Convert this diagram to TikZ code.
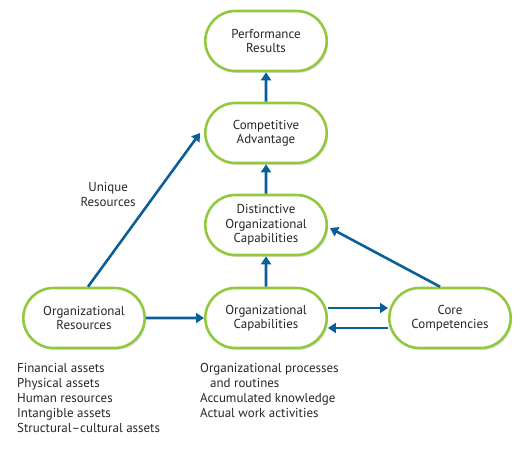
\documentclass[tikz,border=0pt]{standalone}
\usepackage{fontspec}
\setmainfont{PT Sans}
\usetikzlibrary{shapes.misc, arrows.meta, shadows, positioning, calc}

\definecolor{pillgreen}{RGB}{146,200,62}
\definecolor{arrowblue}{RGB}{10,96,150}

\tikzset{
  pill/.style={rounded rectangle, draw=pillgreen, line width=2.6pt, fill=white,
    minimum width=128bp, minimum height=60bp, align=center, font=\fontsize{13}{14.5}\selectfont,
    text=black!85, drop shadow={shadow xshift=1.5pt, shadow yshift=-2pt, opacity=0.25, fill=black!50}},
  flow/.style={draw=arrowblue, line width=2.6pt, -{Triangle[length=8bp, width=10bp]}},
  lst/.style={align=left, anchor=north west, inner sep=0pt, font=\fontsize{13}{15}\selectfont, text=black!85}
}

\begin{document}
\begin{tikzpicture}[x=1bp, y=-1bp]
\useasboundingbox (0,0) rectangle (526,457);

\node (perf) at (266, 41) [pill] {Performance\\Results};
\node (comp) at (266, 133) [pill] {Competitive\\Advantage};
\node (dist) at (266, 225) [pill] {Distinctive\\Organizational\\Capabilities};
\node (res) at (84, 318) [pill] {Organizational\\Resources};
\node (cap) at (266, 318) [pill] {Organizational\\Capabilities};
\node (core) at (450, 318) [pill] {Core\\Competencies};

\draw [flow] (comp) -- (perf);
\draw [flow] (dist) -- (comp);
\draw [flow] (cap) -- (dist);
\draw [flow] (res) -- (cap);
\draw [flow] ($(cap.east)+(0,-10)$) -- ($(core.west)+(0,-10)$);
\draw [flow] ($(core.west)+(0,10)$) -- ($(cap.east)+(0,10)$);
\draw [flow] ($(core.north)+(-10,0)$) coordinate (cc) -- ($(dist.east)+(2,3)$);
\draw [flow] ($(res.north)+(4,0)$) coordinate (rr) -- ($(comp.west)+(-4,0)$) node (uniq) [pos=0.6, left=15bp, align=center, font=\fontsize{13}{14.5}\selectfont, text=black!85] {Unique\\Resources};

\node (reslist) at (17, 363) [lst] {Financial assets\\Physical assets\\Human resources\\Intangible assets\\Structural--cultural assets};
\node (caplist) at (200, 363) [lst] {Organizational processes\\\hspace{10bp}and routines\\Accumulated knowledge\\Actual work activities};

\end{tikzpicture}
\end{document}
